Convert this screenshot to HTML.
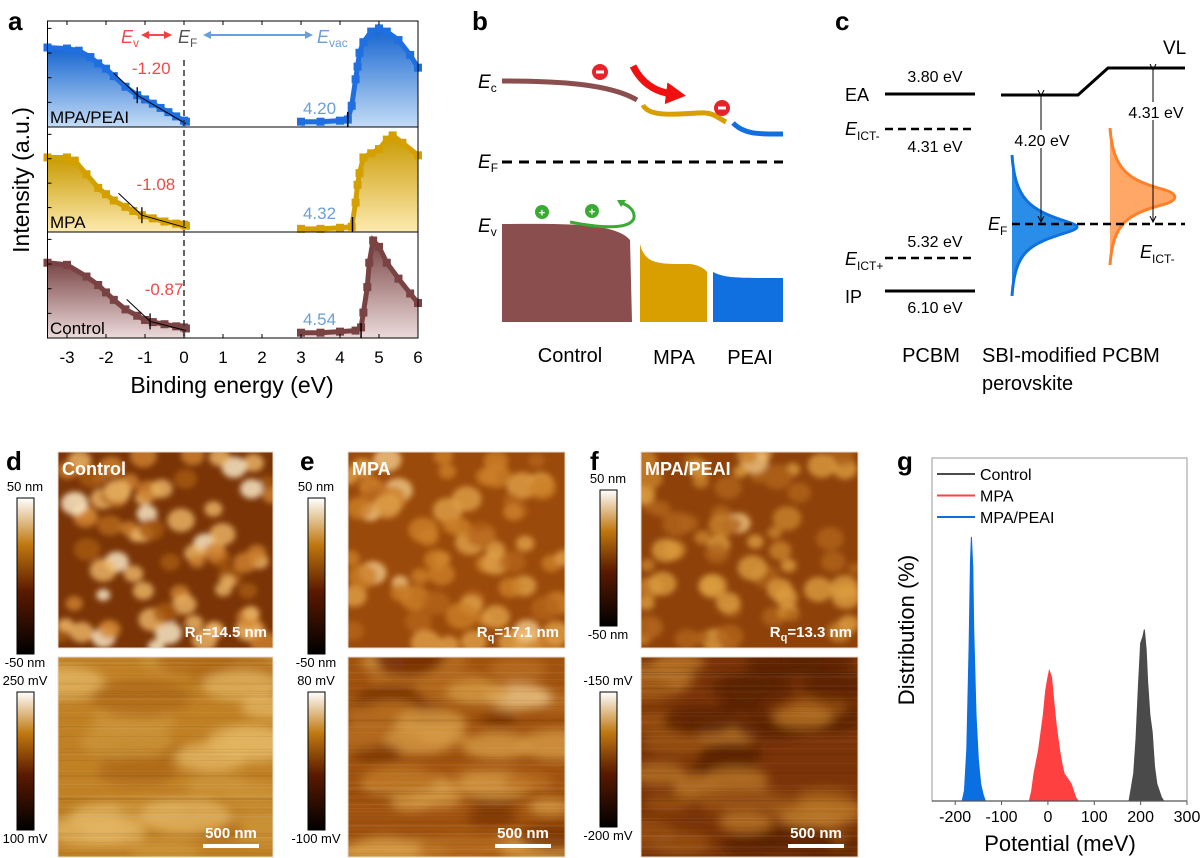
<!DOCTYPE html>
<html><head><meta charset="utf-8"><style>
html,body{margin:0;padding:0;background:#fff}
svg{display:block;font-family:"Liberation Sans",Arial,sans-serif}
</style></head><body>
<svg id="fig" width="1200" height="858" viewBox="0 0 1200 858" xmlns="http://www.w3.org/2000/svg">
<defs>
<linearGradient id="gBlue" x1="0" y1="0" x2="0" y2="1"><stop offset="0" stop-color="#1565d0"/><stop offset="1" stop-color="#c4dcf6"/></linearGradient>
<linearGradient id="gGold" x1="0" y1="0" x2="0" y2="1"><stop offset="0" stop-color="#c99a00"/><stop offset="1" stop-color="#fdeab0"/></linearGradient>
<linearGradient id="gBrown" x1="0" y1="0" x2="0" y2="1"><stop offset="0" stop-color="#7a4646"/><stop offset="1" stop-color="#ecdada"/></linearGradient>
<linearGradient id="cbar" x1="0" y1="1" x2="0" y2="0"><stop offset="0" stop-color="#000"/><stop offset="0.4" stop-color="#5a1a00"/><stop offset="0.7" stop-color="#c07810"/><stop offset="1" stop-color="#fff"/></linearGradient>
<filter id="blur3"><feGaussianBlur stdDeviation="3"/></filter>
<filter id="blur5"><feGaussianBlur stdDeviation="5"/></filter>
<marker id="ah" markerWidth="8" markerHeight="8" refX="6" refY="4" orient="auto"><path d="M0,1 L6,4 L0,7" fill="none" stroke="#000" stroke-width="1"/></marker>
<marker id="ahR" markerUnits="userSpaceOnUse" markerWidth="10" markerHeight="10" refX="6" refY="5" orient="auto-start-reverse"><path d="M0,1 L8,5 L0,9 z" fill="#f04040"/></marker>
<marker id="ahB" markerUnits="userSpaceOnUse" markerWidth="10" markerHeight="10" refX="6" refY="5" orient="auto-start-reverse"><path d="M0,1 L8,5 L0,9 z" fill="#6a9fd8"/></marker>
<marker id="ahBig" markerUnits="userSpaceOnUse" markerWidth="22" markerHeight="22" refX="6" refY="11" orient="auto"><path d="M0,0 L20,11 L0,22 z" fill="#f01010"/></marker>
</defs>

<text x="8" y="30" font-size="26" font-weight="bold">a</text>
<text x="472" y="30" font-size="26" font-weight="bold">b</text>
<text x="835" y="30" font-size="26" font-weight="bold">c</text>
<text x="6" y="470" font-size="26" font-weight="bold">d</text>
<text x="300" y="470" font-size="26" font-weight="bold">e</text>
<text x="590" y="470" font-size="26" font-weight="bold">f</text>
<text x="897" y="470" font-size="26" font-weight="bold">g</text>

<g id="panelA"></g>

<g>
<text x="478" y="88" font-size="19" font-style="italic">E<tspan font-size="12" font-style="normal" dy="4">c</tspan></text>
<path d="M502,81 C560,81 610,84 637,100" fill="none" stroke="#8b4e4e" stroke-width="5"/>
<path d="M643,105 C650,120 690,112 706,113 C715,114 718,118 726,122" fill="none" stroke="#d99e00" stroke-width="5"/>
<path d="M733,123 C745,135 760,134 783,134" fill="none" stroke="#1170e0" stroke-width="5"/>
<circle cx="600" cy="72" r="8" fill="#e8222a"/><rect x="596" y="70.5" width="8" height="3" fill="#fff"/>
<circle cx="722" cy="108" r="8" fill="#e8222a"/><rect x="718" y="106.5" width="8" height="3" fill="#fff"/>
<path d="M633,66 C642,84 656,92 672,94" fill="none" stroke="#f01010" stroke-width="7" marker-end="url(#ahBig)"/>
<text x="478" y="168" font-size="19" font-style="italic">E<tspan font-size="12" font-style="normal" dy="4">F</tspan></text>
<line x1="502" y1="162" x2="783" y2="162" stroke="#000" stroke-width="3" stroke-dasharray="10,7"/>
<text x="478" y="232" font-size="19" font-style="italic">E<tspan font-size="12" font-style="normal" dy="4">v</tspan></text>
<path d="M502,224 C560,224 615,222 630,240 L632,322 L502,322 Z" fill="#8b4e4e"/>
<path d="M640,244 C645,265 660,264 690,264 C700,265 706,270 707,272 L707,322 L640,322 Z" fill="#d99e00"/>
<path d="M713,272 C725,278 735,278 783,278 L783,322 L713,322 Z" fill="#1170e0"/>
<circle cx="542" cy="212" r="7" fill="#3aaa35"/><text x="542" y="216.5" font-size="11" font-weight="bold" fill="#fff" text-anchor="middle">+</text>
<circle cx="592" cy="211" r="7" fill="#3aaa35"/><text x="592" y="215.5" font-size="11" font-weight="bold" fill="#fff" text-anchor="middle">+</text>
<path d="M570,222 C600,228 630,230 634,218 C635,210 628,205 621,203" fill="none" stroke="#3aaa35" stroke-width="3"/>
<path d="M617,200 L626,200 L621,207 Z" fill="#3aaa35"/>
<text x="570" y="362" font-size="20" text-anchor="middle">Control</text>
<text x="674" y="364" font-size="20" text-anchor="middle">MPA</text>
<text x="750" y="364" font-size="20" text-anchor="middle">PEAI</text>
</g>

<g>
<text x="845" y="101" font-size="18">EA</text>
<line x1="885" y1="94" x2="975" y2="94" stroke="#000" stroke-width="3"/>
<text x="935" y="82" font-size="16" text-anchor="middle">3.80 eV</text>
<text x="845" y="135" font-size="18" font-style="italic">E<tspan font-size="12" font-style="normal" dy="5">ICT-</tspan></text>
<line x1="885" y1="129" x2="975" y2="129" stroke="#000" stroke-width="2.5" stroke-dasharray="8,5"/>
<text x="935" y="152" font-size="16" text-anchor="middle">4.31 eV</text>
<text x="935" y="247" font-size="16" text-anchor="middle">5.32 eV</text>
<text x="845" y="265" font-size="18" font-style="italic">E<tspan font-size="12" font-style="normal" dy="5">ICT+</tspan></text>
<line x1="885" y1="258" x2="975" y2="258" stroke="#000" stroke-width="2.5" stroke-dasharray="8,5"/>
<text x="845" y="303" font-size="18">IP</text>
<line x1="885" y1="291" x2="975" y2="291" stroke="#000" stroke-width="3"/>
<text x="935" y="313" font-size="16" text-anchor="middle">6.10 eV</text>
<polyline points="1001,95 1078,95 1108,68 1185,68" fill="none" stroke="#000" stroke-width="3"/>
<text x="1163" y="54" font-size="19">VL</text>
<path d="M1012,155 C1015,200 1030,210 1068,222 C1080,226 1080,228 1068,232 C1030,244 1015,250 1012,296 L1012,296 L1012,155 Z" fill="#2a8ee8"/>
<path d="M1012,155 C1015,200 1030,210 1068,222 C1080,226 1080,228 1068,232 C1030,244 1015,250 1012,296" fill="none" stroke="#1170e0" stroke-width="3"/>
<path d="M1110,128 C1113,170 1128,180 1165,190 C1178,194 1178,200 1165,204 C1128,214 1113,222 1110,265 L1110,128 Z" fill="#ffa766"/>
<path d="M1110,128 C1113,170 1128,180 1165,190 C1178,194 1178,200 1165,204 C1128,214 1113,222 1110,265" fill="none" stroke="#ff7f2a" stroke-width="3"/>
<line x1="1012" y1="224" x2="1185" y2="224" stroke="#000" stroke-width="2.5" stroke-dasharray="8,5"/>
<text x="988" y="230" font-size="18" font-style="italic">E<tspan font-size="12" font-style="normal" dy="5">F</tspan></text>
<line x1="1041" y1="96" x2="1041" y2="222" stroke="#000" stroke-width="1" marker-start="url(#ah)" marker-end="url(#ah)"/>
<rect x="1012" y="130" width="58" height="18" fill="#fff"/>
<text x="1042" y="146" font-size="16" text-anchor="middle">4.20 eV</text>
<line x1="1153" y1="70" x2="1153" y2="222" stroke="#000" stroke-width="1" marker-start="url(#ah)" marker-end="url(#ah)"/>
<rect x="1125" y="102" width="60" height="18" fill="#fff"/>
<text x="1156" y="118" font-size="16" text-anchor="middle">4.31 eV</text>
<text x="1140" y="258" font-size="18" font-style="italic">E<tspan font-size="12" font-style="normal" dy="5">ICT-</tspan></text>
<text x="931" y="362" font-size="20" text-anchor="middle">PCBM</text>
<text x="982" y="362" font-size="20">SBI-modified PCBM</text>
<text x="982" y="390" font-size="20">perovskite</text>
</g>

<g id="afm"></g>
<g id="panelG"></g>
</svg>

<script>
var NS='http://www.w3.org/2000/svg';
function mk(parent,tag,attrs,text){var e=document.createElementNS(NS,tag);for(var k in attrs)e.setAttribute(k,attrs[k]);if(text!==undefined)e.textContent=text;parent.appendChild(e);return e;}

// ===== Panel a data =====
var aTicks=[-3,-2,-1,0,1,2,3,4,5,6];
var aNames=['MPA/PEAI','MPA','Control'];
var aOnsets=['-1.20','-1.08','-0.87'];
var aOnsetVals=[-1.20,-1.08,-0.87];
var aCutoffs=['4.20','4.32','4.54'];
var aCutoffVals=[4.20,4.32,4.54];
var peaiLeftX=[-3.5,-3.0,-2.7,-2.4,-2.2,-2.0,-1.8,-1.5,-1.2,-1.0,-0.8,-0.6,-0.4,-0.2,0,0.05];
var peaiLeftY=[0.75,0.74,0.72,0.66,0.60,0.55,0.48,0.38,0.30,0.26,0.22,0.18,0.14,0.10,0.06,0.05];
var peaiRightX=[3.0,3.5,4.0,4.2,4.3,4.4,4.45,4.5,4.6,4.8,5.0,5.2,5.5,5.8,6.0];
var peaiRightY=[0.05,0.05,0.06,0.07,0.2,0.45,0.57,0.7,0.8,0.9,0.93,0.9,0.82,0.68,0.56];
var mpaLeftX=[-3.5,-3.0,-2.8,-2.5,-2.2,-2.0,-1.8,-1.5,-1.3,-1.08,-0.8,-0.5,-0.2,0,0.05];
var mpaLeftY=[0.71,0.71,0.68,0.55,0.42,0.36,0.30,0.24,0.20,0.16,0.13,0.10,0.08,0.07,0.06];
var mpaRightX=[3.0,3.5,4.0,4.3,4.4,4.45,4.5,4.6,4.8,5.0,5.2,5.35,5.6,6.0];
var mpaRightY=[0.03,0.03,0.04,0.05,0.28,0.45,0.56,0.71,0.75,0.79,0.88,0.92,0.85,0.73];
var ctlLeftX=[-3.5,-3.0,-2.5,-2.2,-2.0,-1.8,-1.5,-1.2,-1.0,-0.8,-0.5,-0.2,0,0.05];
var ctlLeftY=[0.71,0.69,0.58,0.50,0.43,0.36,0.27,0.21,0.17,0.15,0.13,0.11,0.10,0.09];
var ctlRightX=[3.0,3.5,4.0,4.4,4.54,4.6,4.7,4.75,4.85,5.0,5.2,5.5,5.8,6.0];
var ctlRightY=[0.05,0.05,0.06,0.07,0.1,0.24,0.48,0.71,0.92,0.86,0.71,0.56,0.42,0.33];
var aSeries=[[peaiLeftX,peaiLeftY,peaiRightX,peaiRightY],[mpaLeftX,mpaLeftY,mpaRightX,mpaRightY],[ctlLeftX,ctlLeftY,ctlRightX,ctlRightY]];
var aColors=['#1f6fe0','#d4a000','#7a4343'];
var aFills=['url(#gBlue)','url(#gGold)','url(#gBrown)'];

(function(){
var g=document.getElementById('panelA');
var X0=47.5,X1=418,xmin=-3.5,xmax=6;
function ax(v){return X0+(v-xmin)/(xmax-xmin)*(X1-X0);}
var tops=[21,127,232],bots=[127,232,338];
function drawSub(i){
 var t=tops[i],b=bots[i];
 var ay=function(f){return b-f*(b-t);};
 var s=aSeries[i];
 [[s[0],s[1]],[s[2],s[3]]].forEach(function(p,k){
  var xs=p[0],ys=p[1];
  var d='M'+ax(xs[0])+','+b;
  for(var j=0;j<xs.length;j++)d+=' L'+ax(xs[j])+','+ay(ys[j]);
  d+=' L'+ax(xs[xs.length-1])+','+b+' Z';
  var f=mk(g,'path',{d:d,fill:aFills[i]});
  
  
  var ld='';
  for(var j=0;j<xs.length;j++)ld+=(j?' L':'M')+ax(xs[j])+','+ay(ys[j]);
  var l=mk(g,'path',{d:ld,fill:'none',stroke:aColors[i],'stroke-width':5});
  
  
  for(var j=0;j<xs.length;j++){
   var m=mk(g,'rect',{x:ax(xs[j])-4,y:ay(ys[j])-4,width:8,height:8,fill:aColors[i]});
   
   
  }
 });
 var ov=aOnsetVals[i];
 var xs0=s[0],ys0=s[1];
 var oi=0;for(var j=0;j<xs0.length-1;j++){if(xs0[j]<=ov)oi=j;}
 var fr=(ov-xs0[oi])/(xs0[oi+1]-xs0[oi]);
 var oy=ay(ys0[oi]+(ys0[oi+1]-ys0[oi])*fr);
 mk(g,'line',{x1:ax(ov-0.6),y1:oy-22,x2:ax(ov),y2:oy,stroke:'#000','stroke-width':1});
 mk(g,'line',{x1:ax(ov),y1:oy,x2:ax(0.05),y2:ay(ys0[ys0.length-1])+2,stroke:'#000','stroke-width':1});
 mk(g,'line',{x1:ax(ov),y1:oy-8,x2:ax(ov),y2:oy+8,stroke:'#000','stroke-width':1.3});
 var cv=aCutoffVals[i];
 mk(g,'line',{x1:ax(cv),y1:b-15,x2:ax(cv),y2:b,stroke:'#000','stroke-width':1.5});
 var ol=mk(g,'text',{x:ax(ov)+14,y:t+(i==0?53:63),'font-size':17,fill:'#f04a4a','text-anchor':'middle'},aOnsets[i]);
 
 
 var cl=mk(g,'text',{x:ax(3.05),y:b-13,'font-size':17,fill:'#6a9fd8'},aCutoffs[i]);
 
 
 var nl=mk(g,'text',{x:50,y:b-4,'font-size':17,fill:'#000'},aNames[i]);
 
 
 mk(g,'rect',{x:X0,y:t,width:X1-X0,height:b-t,fill:'none',stroke:'#000','stroke-width':1});
 for(var q=1;q<5;q++)mk(g,'line',{x1:X0,y1:b-q*(b-t)/4.3,x2:X0+4,y2:b-q*(b-t)/4.3,stroke:'#000','stroke-width':1});
}
for(var i=0;i<3;i++)drawSub(i);
mk(g,'line',{x1:ax(0),y1:60,x2:ax(0),y2:338,stroke:'#333','stroke-width':1.5,'stroke-dasharray':'6,4'});
aTicks.forEach(function(v){
 mk(g,'line',{x1:ax(v),y1:338,x2:ax(v),y2:334,stroke:'#000'});
 mk(g,'line',{x1:ax(v),y1:21,x2:ax(v),y2:25,stroke:'#000'});
 var tl=mk(g,'text',{x:ax(v),y:363,'font-size':17,'text-anchor':'middle'},String(v));
 
 
});
var xt=mk(g,'text',{x:232,y:393,'font-size':23,'text-anchor':'middle'},'Binding energy (eV)');


var yt=mk(g,'text',{x:0,y:0,'font-size':23,'text-anchor':'middle',transform:'translate(29,180) rotate(-90)'},'Intensity (a.u.)');


var ev=mk(g,'text',{x:121,y:43,'font-size':18,'font-style':'italic',fill:'#f04a4a'},'E');
mk(ev,'tspan',{'font-size':12,'font-style':'normal',dy:4},'v');
mk(g,'line',{x1:143,y1:35,x2:170,y2:35,stroke:'#f04a4a','stroke-width':2,'marker-end':'url(#ahR)','marker-start':'url(#ahR)'});
var ef=mk(g,'text',{x:178,y:43,'font-size':18,'font-style':'italic',fill:'#555'},'E');
mk(ef,'tspan',{'font-size':12,'font-style':'normal',dy:4},'F');
mk(g,'line',{x1:205,y1:35,x2:311,y2:35,stroke:'#6a9fd8','stroke-width':2,'marker-end':'url(#ahB)','marker-start':'url(#ahB)'});
var evc=mk(g,'text',{x:317,y:43,'font-size':18,'font-style':'italic',fill:'#6a9fd8'},'E');
mk(evc,'tspan',{'font-size':12,'font-style':'normal',dy:4},'vac');
})();

// ===== AFM / KPFM images (decorative textures) =====
(function(){
var g=document.getElementById('afm');
var seed=7;function rnd(){seed=(seed*16807)%2147483647;return (seed-1)/2147483646;}
var imgs=[
 {x:58,y:452,w:215,h:196,base:'#7a3406',cols:['#a85a12','#cf8230','#eeb868','#fff0d0'],n:80,r:[7,14],bright:0.3,label:'Control',rq:'14.5'},
 {x:348,y:452,w:217,h:196,base:'#9a4a0a',cols:['#b5641a','#cc8028','#e0a048','#f2c888'],n:70,r:[8,16],bright:0.15,label:'MPA',rq:'17.1'},
 {x:641,y:452,w:217,h:196,base:'#8e420a',cols:['#b0641a','#c9822c','#dc9c40','#f0c480'],n:70,r:[7,15],bright:0.15,label:'MPA/PEAI',rq:'13.3'},
 {x:58,y:657,w:215,h:200,base:'#c08024',cols:['#b06a18','#cc9438','#e2b460','#fbe8c0'],n:30,r:[14,28],bright:0.12},
 {x:348,y:657,w:217,h:200,base:'#a0520e',cols:['#7a3206','#b86e1e','#d49a44','#eec888'],n:45,r:[10,22],bright:0.1},
 {x:641,y:657,w:217,h:200,base:'#7a3408',cols:['#5a2004','#9a5214','#b87426','#d89a40'],n:40,r:[12,24],bright:0.05}
];
imgs.forEach(function(im,idx){
 var cp=mk(g,'clipPath',{id:'cp'+idx});mk(cp,'rect',{x:im.x,y:im.y,width:im.w,height:im.h});
 var grp=mk(g,'g',{'clip-path':'url(#cp'+idx+')'});
 
 
 mk(grp,'rect',{x:im.x,y:im.y,width:im.w,height:im.h,fill:im.base});
 var bg=mk(grp,'g',{filter:idx<3?'url(#blur3)':'url(#blur5)'});
 for(var i=0;i<im.n;i++){
  var r=im.r[0]+rnd()*(im.r[1]-im.r[0]);
  var c=im.cols[Math.min(3,Math.floor(rnd()*3+(rnd()<im.bright?1:0)))];
  mk(bg,'ellipse',{cx:im.x+rnd()*im.w,cy:im.y+rnd()*im.h,rx:r*(idx<3?1:1.8),ry:r*(idx<3?0.85:0.7),fill:c,opacity:0.8});
 }
 if(idx>=3){for(var k=0;k<60;k++){mk(grp,'rect',{x:im.x,y:im.y+rnd()*im.h,width:im.w,height:1,fill:rnd()<0.5?'#000':'#fff',opacity:0.06});}}
 mk(g,'rect',{x:im.x,y:im.y,width:im.w,height:im.h,fill:'none',stroke:'#e8d8c8','stroke-width':1});
 if(im.label){
  var t=mk(g,'text',{x:im.x+4,y:im.y+23,'font-size':18,'font-weight':'bold',fill:'#fff'},im.label);
  
  
  var q=mk(g,'text',{x:im.x+im.w-6,y:im.y+im.h-11,'font-size':15,'font-weight':'bold',fill:'#fff','text-anchor':'end'},'R');
  mk(q,'tspan',{'font-size':11,dy:4},'q');mk(q,'tspan',{dy:-4},'='+im.rq+' nm');
  
  
 } else {
  var sb=mk(g,'text',{x:im.x+im.w-42,y:im.y+im.h-19,'font-size':15,'font-weight':'bold',fill:'#fff','text-anchor':'middle'},'500 nm');
  
  
  mk(g,'rect',{x:im.x+im.w-70,y:im.y+im.h-13,width:56,height:4,fill:'#fff'});
 }
});
var cbs=[[17,'50 nm','-50 nm',498,654],[308,'50 nm','-50 nm',498,654],[600,'50 nm','-50 nm',490,626],[17,'250 mV','100 mV',692,830],[308,'80 mV','-100 mV',692,830],[600,'-150 mV','-200 mV',692,827]];
cbs.forEach(function(c){
 var r=mk(g,'rect',{x:c[0],y:c[3],width:17,height:c[4]-c[3],fill:'url(#cbar)',stroke:'#000','stroke-width':1});
 
 
 var t1=mk(g,'text',{x:c[0]+8,y:c[3]-7,'font-size':13,'text-anchor':'middle'},c[1]);
 
 
 var t2=mk(g,'text',{x:c[0]+8,y:c[4]+13,'font-size':13,'text-anchor':'middle'},c[2]);
 
 
});
})();

// ===== Panel g data =====
var gTicks=[-200,-100,0,100,200,300];
var gNames=['Control','MPA','MPA/PEAI'];
var gColors=['#4a4a4a','#ff4040','#0a6fe0'];
var blueX=[-185,-180,-175,-170,-167,-165,-162,-160,-155,-150,-145,-140,-135];
var blueY=[0,3,15,45,70,77,68,50,25,12,5,2,0];
var redX=[-40,-35,-30,-20,-15,-10,-5,0,3,8,12,18,25,30,35,40,45,50,55,60,65];
var redY=[0,3,8,15,20,25,32,36,38,36,30,22,15,11,8,7,6,5,3,1,0];
var blackX=[175,180,185,190,195,200,205,208,212,215,220,225,230,235,240,245,250];
var blackY=[0,4,8,18,33,46,48,50,44,35,25,20,10,5,3,1,0];
(function(){
var g=document.getElementById('panelG');
var L=932,R=1187,T=458,B=801,xmin=-250,xmax=300,ymax=100;
function gx(v){return L+(v-xmin)/(xmax-xmin)*(R-L);}
function gy(v){return B-v/ymax*(B-T);}
[[blackX,blackY,0],[redX,redY,1],[blueX,blueY,2]].forEach(function(s){
 var d='M'+gx(s[0][0])+','+B;
 for(var i=0;i<s[0].length;i++)d+=' L'+gx(s[0][i])+','+gy(s[1][i]);
 d+=' L'+gx(s[0][s[0].length-1])+','+B+' Z';
 var p=mk(g,'path',{d:d,fill:gColors[s[2]],stroke:gColors[s[2]],'stroke-width':1});
 
 
});
mk(g,'rect',{x:L,y:T,width:R-L,height:B-T,fill:'none',stroke:'#999','stroke-width':1});
mk(g,'line',{x1:L,y1:B,x2:R,y2:B,stroke:'#555','stroke-width':1.2});
gTicks.forEach(function(v){
 mk(g,'line',{x1:gx(v),y1:B,x2:gx(v),y2:B+4,stroke:'#555'});
 var t=mk(g,'text',{x:gx(v),y:B+21,'font-size':16,'text-anchor':'middle'},String(v));
 
 
});
var xt=mk(g,'text',{x:1060,y:851,'font-size':22,'text-anchor':'middle'},'Potential (meV)');


var yt=mk(g,'text',{x:0,y:0,'font-size':22,'text-anchor':'middle',transform:'translate(914,630) rotate(-90)'},'Distribution (%)');


gNames.forEach(function(n,i){
 var y=474+i*21.5;
 var ln=mk(g,'line',{x1:937,y1:y,x2:975,y2:y,stroke:gColors[i],'stroke-width':2});
 
 
 var t=mk(g,'text',{x:980,y:y+6,'font-size':16},n);
 
 
});
})();
</script>
</body></html>
